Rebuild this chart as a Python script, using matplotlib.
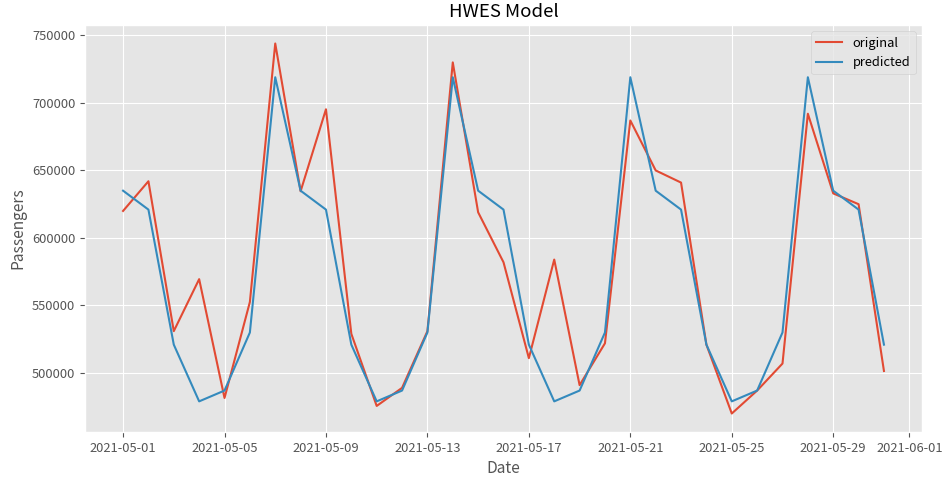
import numpy as np
import pandas as pd
import matplotlib
matplotlib.use("Agg")
import matplotlib.pyplot as plt

# daily passengers, May 2021
dates = pd.date_range("2021-05-01", "2021-05-31", freq="D")

original = [620000, 642000, 531000, 569500, 481500, 552600, 744000,
            634600, 695300, 529000, 475600, 489000, 531000, 730000,
            619000, 582000, 511000, 584000, 491000, 522000, 687000,
            650000, 641000, 521000, 470000, 487000, 507000, 692000,
            633000, 625000, 501500]

predicted = [635000, 621000, 521000, 479000, 487000, 530000, 719000,
             635000, 621000, 521000, 479000, 487000, 530000, 719000,
             635000, 621000, 521000, 479000, 487000, 530000, 719000,
             635000, 621000, 521000, 479000, 487000, 530000, 719000,
             635000, 621000, 521000]

plt.style.use("ggplot")
plt.rcParams["font.family"] = ["Noto Sans CJK KR", "DejaVu Sans"]
plt.rcParams["font.size"] = 9.3

fig, ax = plt.subplots(figsize=(9.51, 4.78), dpi=100)
fig.subplots_adjust(left=0.0894, right=0.9695, bottom=0.0962, top=0.9477)

ax.plot(dates, original, label="original")
ax.plot(dates, predicted, label="predicted")

ax.set_title("HWES Model")
ax.set_xlabel("Date")
ax.set_ylabel("Passengers")
ax.legend(loc="upper right")

fig.savefig("out.png", dpi=100)
